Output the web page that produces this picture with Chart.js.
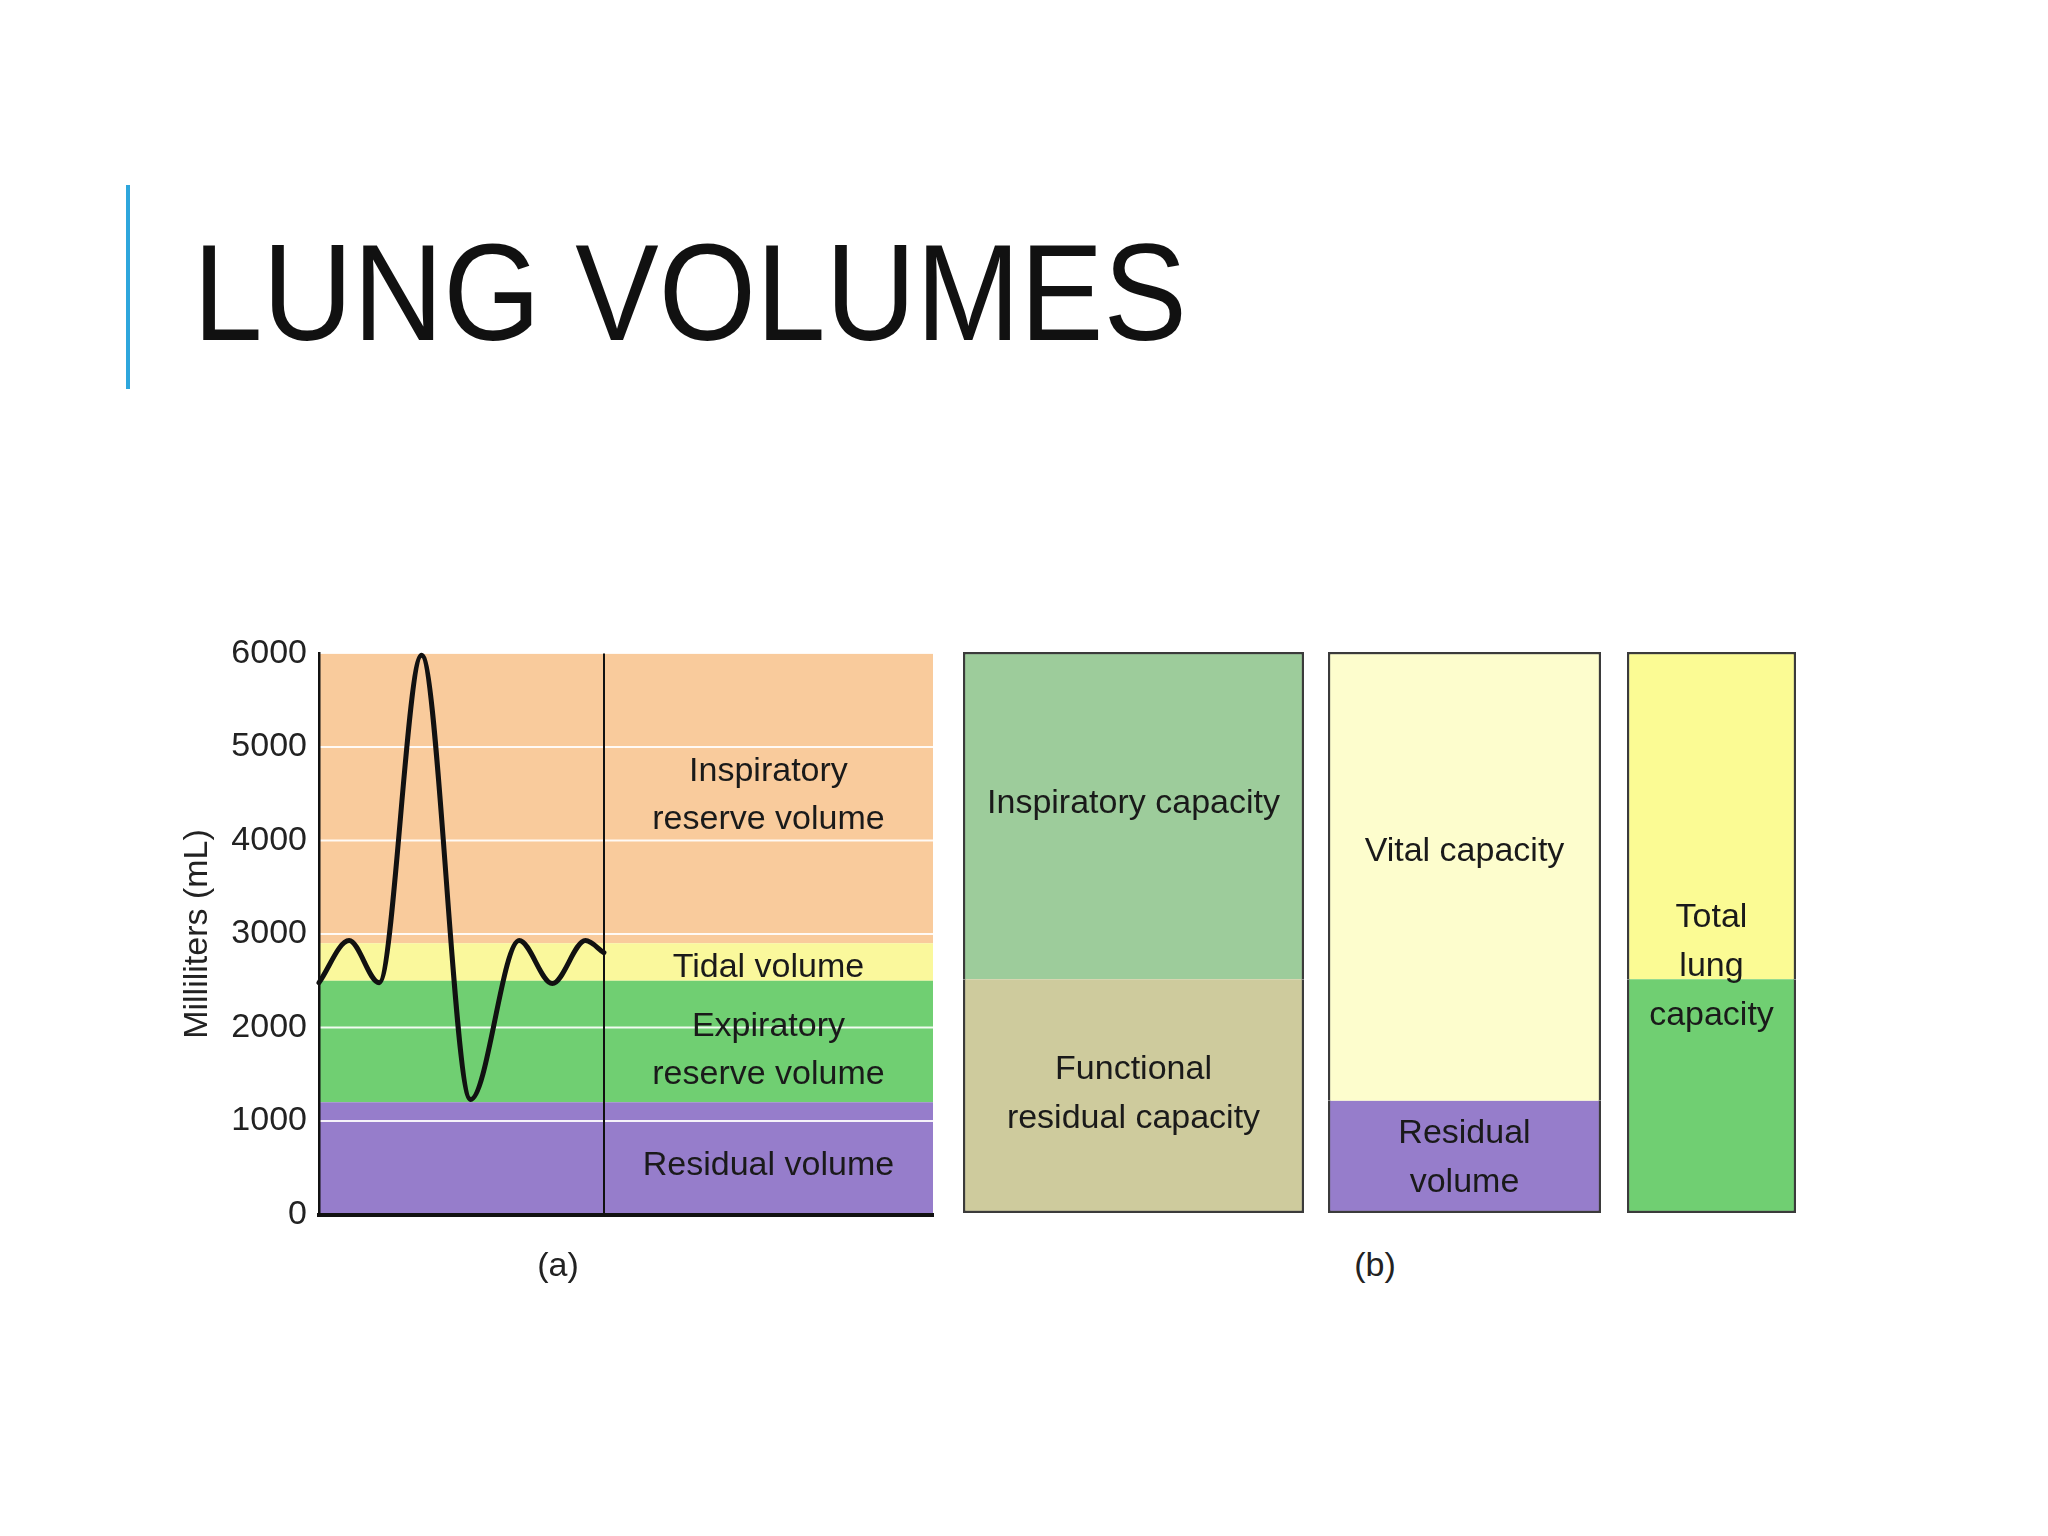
<!DOCTYPE html>
<html>
<head>
<meta charset="utf-8">
<title>Lung volumes</title>
<script src="https://cdn.jsdelivr.net/npm/chart.js@4.4.1/dist/chart.umd.min.js"></script>
<style>
    html, body { margin: 0; padding: 0; background: #fff; }
    body { width: 2048px; height: 1536px; position: relative; overflow: hidden; font-family: "Liberation Sans", Arial, sans-serif; color: #111; }
    .accent { position: absolute; left: 126px; top: 185px; width: 4px; height: 204px; background: #2ea6dc; }
    h1 { position: absolute; left: 193px; top: 224px; margin: 0; font-weight: normal; font-size: 137px; line-height: 137px; white-space: nowrap; transform: scaleX(0.913); transform-origin: 0 0; color: #111; }
    canvas { position: absolute; }
    .panel-tag { position: absolute; top: 1244px; font-size: 34px; line-height: 40px; transform: translateX(-50%); color: #222; }
</style>
</head>
<body>
<div class="accent"></div>
<h1>LUNG VOLUMES</h1>

<canvas id="volumeGraph" width="772" height="626" style="left:173px; top:621px;"></canvas>
<canvas id="capacityBar0" width="345" height="565" style="left:961px; top:650px;"></canvas>
<canvas id="capacityBar1" width="277" height="565" style="left:1326px; top:650px;"></canvas>
<canvas id="capacityBar2" width="173" height="565" style="left:1625px; top:650px;"></canvas>

<div class="panel-tag" style="left:558px;">(a)</div>
<div class="panel-tag" style="left:1375px;">(b)</div>

<script>
// (a) spirogram
const yTicks = [0, 1000, 2000, 3000, 4000, 5000, 6000];
const waveTime = [0, 4.9, 9.8, 16.7, 24.7, 32.6, 38.0, 43.4, 46.4];
const waveVolume = [2480, 2930, 2480, 5980, 1230, 2930, 2470, 2930, 2800];
const dividerTime = 46.4;

// bands, bottom to top
const volumeNames = [['Residual volume'], ['Expiratory', 'reserve volume'], ['Tidal volume'], ['Inspiratory', 'reserve volume']];
const volumeLow = [0, 1200, 2500, 2900];
const volumeHigh = [1200, 2500, 2900, 6000];
const volumeLabelAt = [520, 1750, 2640, 4480];

// (b) capacity bars
const barLower = [[0, 2500], [0, 1200], [0, 2500]];
const barUpper = [[2500, 6000], [1200, 6000], [2500, 6000]];
const barLabels = [
    [{ lines: ['Inspiratory capacity'], at: 4380 }, { lines: ['Functional', 'residual capacity'], at: 1270 }],
    [{ lines: ['Vital capacity'], at: 3870 }, { lines: ['Residual', 'volume'], at: 590 }],
    [{ lines: ['Total', 'lung', 'capacity'], at: 2640 }]
];

const fontFamily = '"Liberation Sans", Arial, sans-serif';
const volumeColors = ['#967dcb', '#70cf72', '#faf89c', '#f9cb9c'];
const barLowerColors = ['#cecb9d', '#967dcb', '#70cf72'];
const barUpperColors = ['#9dcc9b', '#fdfdcd', '#fbfb94'];


function writeLines(ctx, lines, cx, cy, lineGap) {
    lines.forEach(function (line, j) {
        ctx.fillText(line, cx, cy + (j - (lines.length - 1) / 2) * lineGap);
    });
}


function drawVolumeGraph() {
    const volumeGraph = document.getElementById('volumeGraph');

    const bandSets = volumeLow.map(function (low, i) {
        return {
            data: [{ x: 0, y: volumeHigh[i] }, { x: 100, y: volumeHigh[i] }],
            fill: { value: low },
            backgroundColor: volumeColors[i],
            borderColor: 'rgba(0,0,0,0)',
            borderWidth: 1,
            pointRadius: 0
        };
    });

    // white grid goes over the bands but under the trace
    const bandDecor = {
        id: 'bandDecor',
        beforeDatasetDraw: function (chart, args) {
            if (args.index !== 0) return;
            const ctx = chart.ctx;
            const y = chart.scales.y;
            ctx.save();
            ctx.strokeStyle = 'rgba(255,255,255,0.9)';
            ctx.lineWidth = 2;
            yTicks.forEach(function (v) {
                if (v <= y.min || v >= y.max) return;
                const py = y.getPixelForValue(v);
                ctx.beginPath();
                ctx.moveTo(chart.chartArea.left, py);
                ctx.lineTo(chart.chartArea.right, py);
                ctx.stroke();
            });
            ctx.restore();
        },
        afterDatasetsDraw: function (chart) {
            const ctx = chart.ctx;
            const x = chart.scales.x;
            const y = chart.scales.y;
            const cx = x.getPixelForValue((dividerTime + x.max) / 2);
            ctx.save();
            ctx.font = '34px ' + fontFamily;
            ctx.fillStyle = '#1a1a1a';
            ctx.textAlign = 'center';
            ctx.textBaseline = 'middle';
            volumeNames.forEach(function (lines, i) {
                writeLines(ctx, lines, cx, y.getPixelForValue(volumeLabelAt[i]), 48);
            });
            ctx.restore();
        }
    };

    new Chart(volumeGraph, {
        type: 'line',
        data: {
            datasets: [{
                data: waveTime.map(function (t, i) { return { x: t, y: waveVolume[i] }; }),
                borderColor: '#111',
                borderWidth: 5,
                borderCapStyle: 'round',
                borderJoinStyle: 'round',
                cubicInterpolationMode: 'monotone',
                pointRadius: 0,
                fill: false,
                clip: false
            }].concat(bandSets)
        },
        options: {
            responsive: false,
            animation: false,
            layout: { padding: { top: 0, right: 12, bottom: 0, left: 0 } },
            plugins: {
                legend: { display: false },
                tooltip: { enabled: false }
            },
            scales: {
                x: {
                    type: 'linear',
                    min: 0,
                    max: 100,
                    z: 1,
                    afterBuildTicks: function (scale) { scale.ticks = [{ value: dividerTime }]; },
                    afterFit: function (scale) { scale.height = 24; },
                    ticks: { display: false },
                    grid: { color: '#111', lineWidth: 2, drawTicks: false, z: 1 },
                    border: { display: true, color: '#111', width: 4, z: 2 }
                },
                y: {
                    min: 0,
                    max: 6000,
                    z: 1,
                    afterBuildTicks: function (scale) { scale.ticks = yTicks.map(function (v) { return { value: v }; }); },
                    afterFit: function (scale) { scale.width = 146; },
                    ticks: {
                        color: '#222',
                        padding: 12,
                        font: { size: 34, family: fontFamily },
                        callback: function (v) { return String(v); }
                    },
                    grid: { display: false, drawTicks: false },
                    border: { display: true, color: '#111', width: 2.5, z: 2 },
                    title: {
                        display: true,
                        text: 'Milliliters (mL)',
                        color: '#222',
                        font: { size: 34, family: fontFamily },
                        padding: { top: 4, bottom: 0 }
                    }
                }
            }
        },
        plugins: [bandDecor]
    });
}


function drawCapacityBar(i) {
    const capacityBar = document.getElementById('capacityBar' + i);

    const barText = {
        id: 'barText',
        afterDatasetsDraw: function (chart) {
            const ctx = chart.ctx;
            const y = chart.scales.y;
            const cx = (chart.chartArea.left + chart.chartArea.right) / 2;
            ctx.save();
            ctx.font = '34px ' + fontFamily;
            ctx.fillStyle = '#1a1a1a';
            ctx.textAlign = 'center';
            ctx.textBaseline = 'middle';
            barLabels[i].forEach(function (label) {
                writeLines(ctx, label.lines, cx, y.getPixelForValue(label.at), 49);
            });
            ctx.restore();
        }
    };

    new Chart(capacityBar, {
        type: 'bar',
        data: {
            labels: [''],
            datasets: [
                { data: [barLower[i]], backgroundColor: barLowerColors[i], borderSkipped: 'top' },
                { data: [barUpper[i]], backgroundColor: barUpperColors[i], borderSkipped: 'bottom' }
            ]
        },
        options: {
            responsive: false,
            animation: false,
            layout: { padding: 2 },
            datasets: {
                bar: { barPercentage: 1, categoryPercentage: 1, borderWidth: 2.5, borderColor: '#3b3b3b' }
            },
            plugins: {
                legend: { display: false },
                tooltip: { enabled: false }
            },
            scales: {
                x: { display: false, stacked: true },
                y: { display: false, min: 0, max: 6000 }
            }
        },
        plugins: [barText]
    });
}


drawVolumeGraph();
barLower.forEach(function (range, i) {
    drawCapacityBar(i);
});
</script>
</body>
</html>
